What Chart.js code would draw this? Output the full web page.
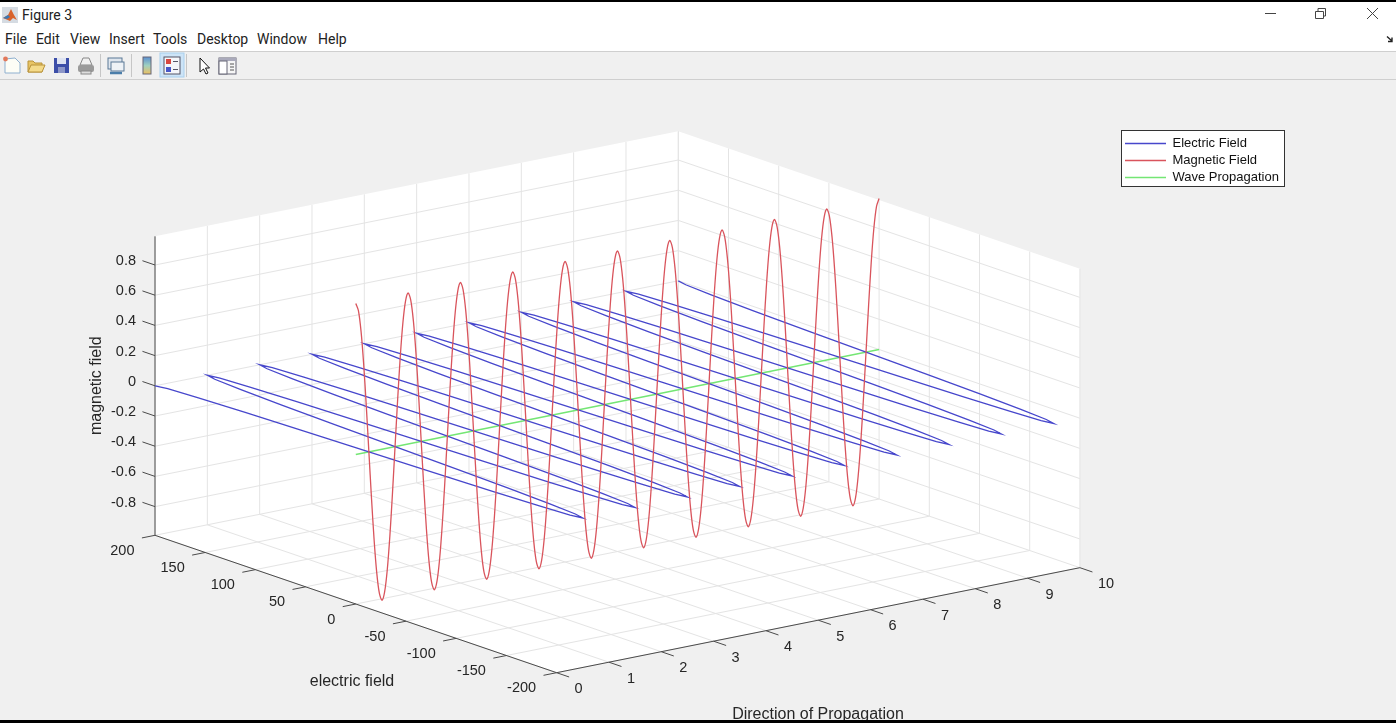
<!DOCTYPE html>
<html><head><meta charset="utf-8"><title>Figure 3</title>
<script src="https://cdn.jsdelivr.net/npm/chart.js@4"></script>
<style>
html,body{margin:0;padding:0;width:1396px;height:723px;overflow:hidden;background:#f0f0f0;font-family:Roboto,sans-serif;color:#222}
#wrap{position:absolute;left:0;top:0;width:1396px;height:723px}
canvas{position:absolute;left:0;top:0;filter:blur(.35px)}
.bar{position:absolute;left:0;width:1396px}
.t{position:absolute;white-space:nowrap;font-size:14px;line-height:18px}
svg{position:absolute;overflow:visible}
</style></head><body>
<div id="wrap"><canvas id="c" width="1396" height="723"></canvas>
<div class="bar" style="top:0;height:2px;background:#000"></div>
<div class="bar" style="top:2px;height:49px;background:#fff;border-bottom:1px solid #cfcfcf"></div>
<div class="bar" style="top:52px;height:27px;background:#f0f0f0;border-bottom:1px solid #cfcfcf"></div>
<div class="bar" style="top:720px;height:3px;background:#000"></div>
<svg style="left:1px;top:6px" width="18" height="18" viewBox="0 0 18 18"><rect x="1" y="1" width="16" height="16" fill="#d5dbe2"/><path d="M2 12 L7 9 L10 3 L13 9 L16 14 L12 12 L9 15 Z" fill="#d9622b"/><path d="M2 12 L7 9 L9 11 L6 13 Z" fill="#3a78b5"/></svg>
<div class="t" style="left:22px;top:6px">Figure 3</div>
<div class="t" style="left:5px;top:30px">File</div>
<div class="t" style="left:36px;top:30px">Edit</div>
<div class="t" style="left:70px;top:30px">View</div>
<div class="t" style="left:109px;top:30px">Insert</div>
<div class="t" style="left:153px;top:30px">Tools</div>
<div class="t" style="left:197px;top:30px">Desktop</div>
<div class="t" style="left:257px;top:30px">Window</div>
<div class="t" style="left:318px;top:30px">Help</div>
<svg style="left:0;top:0" width="1396" height="80" viewBox="0 0 1396 80">
<path d="M1265 13.5H1276" stroke="#444" fill="none"/>
<path d="M1315.5 11.5H1323.5V18.5H1315.5ZM1318 11V8.5H1325.5V16H1323.5" stroke="#444" fill="none"/>
<path d="M1367 8L1378 19M1378 8L1367 19" stroke="#444" fill="none"/>
<path d="M1387 36.5L1392 41M1392 37.5V41.5H1388" stroke="#222" stroke-width="1.4" fill="none"/>
<rect x="160" y="53" width="24" height="24" fill="#cde4f7" stroke="#a8d0ee"/>
<path d="M100.5 54V77M131.5 54V77M186.5 54V77" stroke="#c6c6c6"/>
<path d="M5 59L15 58L20 63V73H5Z" fill="#fdfdf6" stroke="#8fb0d0"/><circle cx="5.5" cy="59" r="2.4" fill="#e2785a"/>
<path d="M28 72V61H33L35 63H42V72Z" fill="#e8c465" stroke="#b8923a"/><path d="M28 72L31 65H45L42 72Z" fill="#f4da8a" stroke="#b8923a"/>
<rect x="54" y="58" width="15" height="15" fill="#3c4ea8"/><rect x="57" y="58" width="9" height="6" fill="#dfe4f2"/><rect x="58" y="67" width="7" height="6" fill="#8d97c8"/>
<path d="M80 65L83 58H89L92 65Z" fill="#f0f0f0" stroke="#888"/><rect x="78" y="65" width="16" height="7" rx="2" fill="#9a9a9a"/><rect x="81" y="71" width="10" height="3" fill="#ddd" stroke="#888"/>
<rect x="108" y="58" width="14" height="11" fill="#dfe6ee" stroke="#5a7896"/><rect x="111" y="62" width="13" height="9" fill="#eef2f6" stroke="#5a7896"/><path d="M110 73H122" stroke="#4b7eaa" stroke-width="2.5"/>
<defs><linearGradient id="cb" x1="0" y1="0" x2="0" y2="1"><stop offset="0" stop-color="#5b8fd0"/><stop offset=".5" stop-color="#9fd0c0"/><stop offset="1" stop-color="#edc060"/></linearGradient></defs>
<rect x="143" y="57" width="8" height="17" fill="url(#cb)" stroke="#667"/>
<rect x="164" y="57" width="16" height="17" fill="#f4f6fa" stroke="#556"/><rect x="166" y="59" width="5" height="5" fill="#d8473f"/><rect x="166" y="67" width="5" height="5" fill="#4656c8"/><path d="M173 61.5H178M173 69.5H178" stroke="#556"/>
<path d="M200 58V72L203.5 69L206 74L208 73L205.5 68H209.5Z" fill="#fff" stroke="#111"/>
<rect x="219" y="58" width="17" height="16" fill="#f6f6f6" stroke="#667"/><rect x="219" y="58" width="17" height="3" fill="#aab"/><rect x="219" y="61" width="8" height="13" fill="#fff" stroke="#667"/><path d="M230 64H234M230 67H234M230 70H234" stroke="#555"/>
</svg>
</div>
<script>
// Values
const propagation = [
0,0.05,0.1,0.15,0.2,0.25,0.3,0.35,0.4,0.45,0.5,0.55,0.6,0.65,0.7,0.75,0.8,0.85,0.9,0.95,
1,1.05,1.1,1.15,1.2,1.25,1.3,1.35,1.4,1.45,1.5,1.55,1.6,1.65,1.7,1.75,1.8,1.85,1.9,1.95,
2,2.05,2.1,2.15,2.2,2.25,2.3,2.35,2.4,2.45,2.5,2.55,2.6,2.65,2.7,2.75,2.8,2.85,2.9,2.95,
3,3.05,3.1,3.15,3.2,3.25,3.3,3.35,3.4,3.45,3.5,3.55,3.6,3.65,3.7,3.75,3.8,3.85,3.9,3.95,
4,4.05,4.1,4.15,4.2,4.25,4.3,4.35,4.4,4.45,4.5,4.55,4.6,4.65,4.7,4.75,4.8,4.85,4.9,4.95,
5,5.05,5.1,5.15,5.2,5.25,5.3,5.35,5.4,5.45,5.5,5.55,5.6,5.65,5.7,5.75,5.8,5.85,5.9,5.95,
6,6.05,6.1,6.15,6.2,6.25,6.3,6.35,6.4,6.45,6.5,6.55,6.6,6.65,6.7,6.75,6.8,6.85,6.9,6.95,
7,7.05,7.1,7.15,7.2,7.25,7.3,7.35,7.4,7.45,7.5,7.55,7.6,7.65,7.7,7.75,7.8,7.85,7.9,7.95,
8,8.05,8.1,8.15,8.2,8.25,8.3,8.35,8.4,8.45,8.5,8.55,8.6,8.65,8.7,8.75,8.8,8.85,8.9,8.95,
9,9.05,9.1,9.15,9.2,9.25,9.3,9.35,9.4,9.45,9.5,9.55,9.6,9.65,9.7,9.75,9.8,9.85,9.9,9.95,
10];
const electricField = [
200,190,162,118,62,0,-62,-118,-162,-190,-200,-190,-162,-118,-62,0,62,118,162,190,
200,190,162,118,62,0,-62,-118,-162,-190,-200,-190,-162,-118,-62,0,62,118,162,190,
200,190,162,118,62,0,-62,-118,-162,-190,-200,-190,-162,-118,-62,0,62,118,162,190,
200,190,162,118,62,0,-62,-118,-162,-190,-200,-190,-162,-118,-62,0,62,118,162,190,
200,190,162,118,62,0,-62,-118,-162,-190,-200,-190,-162,-118,-62,0,62,118,162,190,
200,190,162,118,62,0,-62,-118,-162,-190,-200,-190,-162,-118,-62,0,62,118,162,190,
200,190,162,118,62,0,-62,-118,-162,-190,-200,-190,-162,-118,-62,0,62,118,162,190,
200,190,162,118,62,0,-62,-118,-162,-190,-200,-190,-162,-118,-62,0,62,118,162,190,
200,190,162,118,62,0,-62,-118,-162,-190,-200,-190,-162,-118,-62,0,62,118,162,190,
200,190,162,118,62,0,-62,-118,-162,-190,-200,-190,-162,-118,-62,0,62,118,162,190,
200];
const magneticField = [
1,.95,.81,.59,.31,0,-.31,-.59,-.81,-.95,-1,-.95,-.81,-.59,-.31,0,.31,.59,.81,.95,
1,.95,.81,.59,.31,0,-.31,-.59,-.81,-.95,-1,-.95,-.81,-.59,-.31,0,.31,.59,.81,.95,
1,.95,.81,.59,.31,0,-.31,-.59,-.81,-.95,-1,-.95,-.81,-.59,-.31,0,.31,.59,.81,.95,
1,.95,.81,.59,.31,0,-.31,-.59,-.81,-.95,-1,-.95,-.81,-.59,-.31,0,.31,.59,.81,.95,
1,.95,.81,.59,.31,0,-.31,-.59,-.81,-.95,-1,-.95,-.81,-.59,-.31,0,.31,.59,.81,.95,
1,.95,.81,.59,.31,0,-.31,-.59,-.81,-.95,-1,-.95,-.81,-.59,-.31,0,.31,.59,.81,.95,
1,.95,.81,.59,.31,0,-.31,-.59,-.81,-.95,-1,-.95,-.81,-.59,-.31,0,.31,.59,.81,.95,
1,.95,.81,.59,.31,0,-.31,-.59,-.81,-.95,-1,-.95,-.81,-.59,-.31,0,.31,.59,.81,.95,
1,.95,.81,.59,.31,0,-.31,-.59,-.81,-.95,-1,-.95,-.81,-.59,-.31,0,.31,.59,.81,.95,
1,.95,.81,.59,.31,0,-.31,-.59,-.81,-.95,-1,-.95,-.81,-.59,-.31,0,.31,.59,.81,.95,
1];
const waveX = [0,10];
const waveY = [0,0];
const waveZ = [0,0];
const xTicks = [0,1,2,3,4,5,6,7,8,9,10];
const yTicks = [-200,-150,-100,-50,0,50,100,150,200];
const zTicks = [-0.8,-0.6,-0.4,-0.2,0,0.2,0.4,0.6,0.8];
const xLim = [0,10], yLim = [-200,200], zLim = [-0.99,0.99];

// Orthographic view of the 3-D axes, expressed in the chart's 2-D scale units
const view = {ox:155, oy:535.3, xx:52.33, xy:-10.5, yx:-1.004, yy:-0.3435, zy:-151};
function project(x,y,z){
  return {
    x: view.ox + view.xx*x + view.yx*(y-yLim[1]),
    y: view.oy + view.xy*x + view.yy*(y-yLim[1]) + view.zy*(z-zLim[0])
  };
}
const gap = {x:NaN,y:NaN};
function segs(list){ const out=[]; list.forEach(s=>{out.push(project(...s[0]),project(...s[1]),gap);}); return out; }

const gridSegs=[];
xTicks.forEach(x=>{
  gridSegs.push([[x,yLim[0],zLim[0]],[x,yLim[1],zLim[0]]]);
  gridSegs.push([[x,yLim[1],zLim[0]],[x,yLim[1],zLim[1]]]);
});
yTicks.forEach(y=>{
  gridSegs.push([[xLim[0],y,zLim[0]],[xLim[1],y,zLim[0]]]);
  gridSegs.push([[xLim[1],y,zLim[0]],[xLim[1],y,zLim[1]]]);
});
zTicks.forEach(z=>{
  gridSegs.push([[xLim[0],yLim[1],z],[xLim[1],yLim[1],z]]);
  gridSegs.push([[xLim[1],yLim[1],z],[xLim[1],yLim[0],z]]);
});
const axisSegs=[
  [[xLim[0],yLim[1],zLim[0]],[xLim[0],yLim[1],zLim[1]]],
  [[xLim[0],yLim[1],zLim[0]],[xLim[0],yLim[0],zLim[0]]],
  [[xLim[0],yLim[0],zLim[0]],[xLim[1],yLim[0],zLim[0]]]
];
xTicks.forEach(x=>axisSegs.push([[x,yLim[0],zLim[0]],[x,yLim[0]-12.5,zLim[0]]]));
yTicks.forEach(y=>axisSegs.push([[0,y,zLim[0]],[-0.25,y,zLim[0]]]));
zTicks.forEach(z=>axisSegs.push([[0,yLim[1],z],[0,yLim[1]+12.5,z]]));

const wall=[
  [xLim[0],yLim[1],zLim[0]],[xLim[0],yLim[0],zLim[0]],[xLim[1],yLim[0],zLim[0]],
  [xLim[1],yLim[0],zLim[1]],[xLim[1],yLim[1],zLim[1]],[xLim[0],yLim[1],zLim[1]]
].map(p=>project(...p));

const COLORS={e:'#4747cc',m:'#d9545c',w:'#74e674',grid:'#e4e4e4',axis:'#4a4a4a',text:'#262626'};
const curve=(xs,ys,zs)=>xs.map((x,i)=>project(x,ys[i],zs[i]));
const plain=c=>({showLine:true,pointRadius:0,borderColor:c,backgroundColor:c});

const textPlugin={
  id:'axisText',
  beforeDraw(ch){
    const c=ch.ctx;
    c.save();c.fillStyle='#fff';c.strokeStyle='#333';c.lineWidth=1;
    c.fillRect(1121.5,130.5,163,56);c.strokeRect(1121.5,130.5,163,56);c.restore();
  },
  afterLayout(ch){
    const l=ch.legend;
    l.left=1121;l.right=1296;l.top=133;l.bottom=209;l.width=175;l.height=76;
  },
  afterDatasetsDraw(ch){
    const c=ch.ctx,sx=ch.scales.x,sy=ch.scales.y;
    const put=(p,dx,dy,txt,align)=>{c.textAlign=align;c.fillText(txt,sx.getPixelForValue(p.x)+dx,sy.getPixelForValue(p.y)+dy);};
    c.save();c.fillStyle=COLORS.text;c.textBaseline='middle';
    c.font='14.5px "Liberation Sans"';
    zTicks.forEach(z=>put(project(0,yLim[1],z),-19,-4,String(z),'right'));
    yTicks.forEach(y=>put(project(0,y,zLim[0]),-20.5,15.5,String(y),'right'));
    xTicks.forEach(x=>put(project(x,yLim[0],zLim[0]),18,16.5,String(x),'left'));
    c.font='16px "Liberation Sans"';c.textAlign='center';
    c.fillText('electric field',sx.getPixelForValue(352),sy.getPixelForValue(682));
    c.fillText('Direction of Propagation',sx.getPixelForValue(818),sy.getPixelForValue(715));
    c.translate(sx.getPixelForValue(97),sy.getPixelForValue(385.7));c.rotate(-Math.PI/2);
    c.fillText('magnetic field',0,0);
    c.restore();
  }
};

new Chart(document.getElementById('c'),{
  type:'scatter',
  data:{datasets:[
    {label:'Electric Field',data:curve(propagation,electricField,magneticField.map(()=>0)),...plain(COLORS.e),borderWidth:1.3,order:3,tension:0},
    {label:'Magnetic Field',data:curve(propagation,propagation.map(()=>0),magneticField),...plain(COLORS.m),borderWidth:1.3,order:2,tension:0.3},
    {label:'Wave Propagation',data:curve(waveX,waveY,waveZ),...plain(COLORS.w),borderWidth:1.4,order:4},
    {data:segs(axisSegs),...plain(COLORS.axis),borderWidth:1,order:5,spanGaps:false},
    {data:segs(gridSegs),...plain(COLORS.grid),borderWidth:1,order:6,spanGaps:false},
    {data:[...wall,wall[0]],...plain('#ffffff'),backgroundColor:'#ffffff',borderWidth:0,fill:'shape',order:7}
  ]},
  options:{
    responsive:false,animation:false,devicePixelRatio:1,
    layout:{padding:0},
    scales:{
      x:{type:'linear',display:false,min:0,max:1396},
      y:{type:'linear',display:false,min:0,max:723,reverse:true}
    },
    plugins:{
      tooltip:{enabled:false},
      legend:{
        display:true,position:'chartArea',align:'start',
        labels:{
          filter:i=>!!i.text,sort:(a,b)=>a.datasetIndex-b.datasetIndex,
          usePointStyle:true,pointStyle:'line',pointStyleWidth:41,boxHeight:13,
          padding:4,color:'#111',font:{family:'"Liberation Sans"',size:13}
        }
      }
    }
  },
  plugins:[textPlugin]
});
</script></body></html>
